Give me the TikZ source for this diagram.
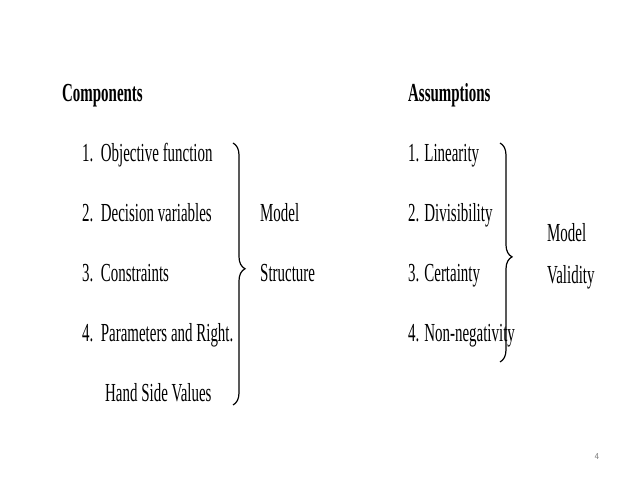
\documentclass[tikz,border=0pt]{standalone}
\usepackage{fontspec}
\setmainfont{Liberation Serif}[FakeStretch=0.575]
\usetikzlibrary{decorations.pathreplacing}
\begin{document}
\begin{tikzpicture}[x=1pt,y=-1pt,
  txt/.style={anchor=base west,inner sep=0pt,font=\fontsize{26}{30}\selectfont},
  hd/.style={txt,font=\fontsize{26}{30}\selectfont\bfseries},
  br/.style={decorate,decoration={brace,amplitude=12pt,aspect=#1},line width=1.2pt}]
\useasboundingbox (0,0) rectangle (638,478);
\node[hd] (c) at (62,102) {Components};
\node[txt] (c1) at (82,162) {1.\ \ Objective function};
\node[txt] (c2) at (82,222) {2.\ \ Decision variables};
\node[txt] (c3) at (82,282) {3.\ \ Constraints};
\node[txt] (c4) at (82,342) {4.\ \ Parameters and Right.};
\node[txt] (c5) at (105,402) {Hand Side Values};
\coordinate (bt) at (233,143);
\coordinate (bb) at (233,405);
\draw[br=0.48] (bt) -- (bb);
\node[txt] (m1) at (260,222) {Model};
\node[txt] (m2) at (260,282) {Structure};
\node[hd] (a) at (408,102) {Assumptions};
\node[txt] (a1) at (408,162) {1. Linearity};
\node[txt] (a2) at (408,222) {2. Divisibility};
\node[txt] (a3) at (408,282) {3. Certainty};
\node[txt] (a4) at (408,342) {4. Non-negativity};
\coordinate (ct) at (500,143);
\coordinate (cb) at (500,362);
\draw[br=0.52] (ct) -- (cb);
\node[txt] (v1) at (547,242) {Model};
\node[txt] (v2) at (547,284) {Validity};
\node[anchor=base,inner sep=0pt,font=\sffamily\fontsize{9}{10}\selectfont,text=gray] (p) at (597,460) {4};
\end{tikzpicture}
\end{document}
